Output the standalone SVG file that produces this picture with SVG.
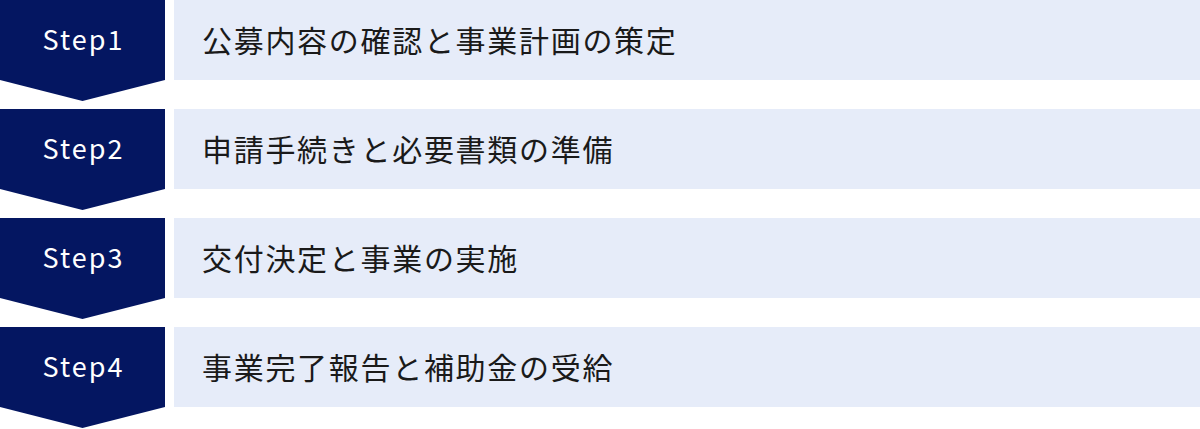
<svg xmlns="http://www.w3.org/2000/svg" width="1200" height="429" viewBox="0 0 1200 429">
<style>
.tag{fill:#041661}
.box{fill:#e6ecf9}
.st{font-family:"Noto Sans CJK JP","Noto Sans",sans-serif;font-size:27px;fill:#ffffff;letter-spacing:2px;text-anchor:middle}
.tt{font-family:"Noto Sans CJK JP",sans-serif;font-size:30px;fill:#1a1a1a;letter-spacing:1.7px}
</style>
<rect width="1200" height="429" fill="#ffffff"/>
<g id="step1">
<path class="tag" d="M0 0H165V80L82.5 101L0 80Z"/>
<rect class="box" x="174" y="0" width="1026" height="80"/>
<text class="st" x="83.5" y="50">Step1</text>
<text class="tt" x="202" y="52">公募内容の確認と事業計画の策定</text>
</g>
<g id="step2">
<path class="tag" d="M0 109H165V189L82.5 210L0 189Z"/>
<rect class="box" x="174" y="109" width="1026" height="80"/>
<text class="st" x="83.5" y="159">Step2</text>
<text class="tt" x="202" y="161">申請手続きと必要書類の準備</text>
</g>
<g id="step3">
<path class="tag" d="M0 218H165V298L82.5 319L0 298Z"/>
<rect class="box" x="174" y="218" width="1026" height="80"/>
<text class="st" x="83.5" y="268">Step3</text>
<text class="tt" x="202" y="270">交付決定と事業の実施</text>
</g>
<g id="step4">
<path class="tag" d="M0 327H165V407L82.5 428L0 407Z"/>
<rect class="box" x="174" y="327" width="1026" height="80"/>
<text class="st" x="83.5" y="377">Step4</text>
<text class="tt" x="202" y="379">事業完了報告と補助金の受給</text>
</g>
<g id="connectors"></g>
</svg>
